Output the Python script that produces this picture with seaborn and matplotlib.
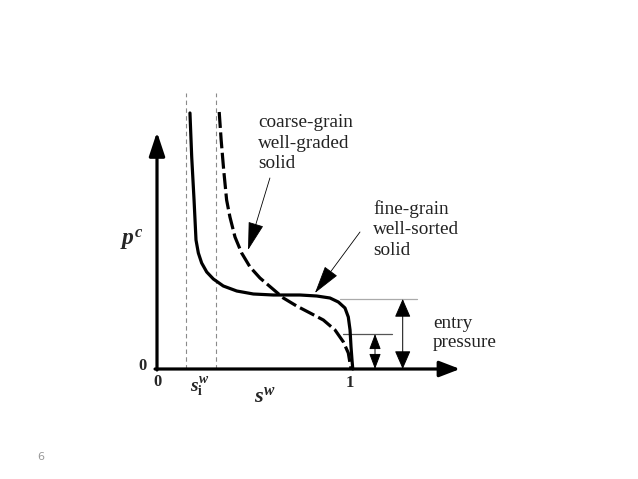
import matplotlib
matplotlib.use("Agg")
import matplotlib.pyplot as plt
import seaborn as sns
import pandas as pd

# fine-grain well-sorted solid (solid line)
fine_sw = [0.169, 0.178, 0.190, 0.195, 0.200, 0.212, 0.229, 0.255, 0.289, 0.340,
           0.409, 0.494, 0.596, 0.733, 0.819, 0.887, 0.930, 0.964, 0.981, 0.990,
           0.995, 1.000, 1.004]
fine_pc = [2.56, 2.12, 1.69, 1.49, 1.29, 1.16, 1.06, 0.97, 0.90, 0.83,
           0.78, 0.75, 0.74, 0.74, 0.73, 0.71, 0.67, 0.61, 0.52, 0.39,
           0.22, 0.09, 0.0]

# coarse-grain well-graded solid (dashed line)
coarse_sw = [0.319, 0.329, 0.342, 0.357, 0.374, 0.400, 0.434, 0.477, 0.528, 0.588,
             0.648, 0.716, 0.785, 0.853, 0.913, 0.956, 0.981, 0.995]
coarse_pc = [2.57, 2.29, 1.99, 1.69, 1.52, 1.32, 1.16, 1.02, 0.91, 0.81,
             0.71, 0.63, 0.56, 0.49, 0.39, 0.27, 0.16, 0.0]

# irreducible saturations (thin dashed verticals)
sw_irr = [0.149, 0.303]
# entry pressures
entry_fine = 0.70
entry_coarse = 0.35

coarse_label = ["coarse-grain", "well-graded", "solid"]
fine_label = ["fine-grain", "well-sorted", "solid"]
entry_label = ["entry", "pressure"]

sns.set_style("white")
plt.rcParams["font.family"] = ["Liberation Serif", "DejaVu Serif"]
plt.rcParams["mathtext.fontset"] = "custom"
plt.rcParams["mathtext.it"] = "Liberation Serif:italic:bold"
plt.rcParams["mathtext.rm"] = "Liberation Serif:bold"
plt.rcParams["mathtext.bf"] = "Liberation Serif:bold"

fig = plt.figure(figsize=(6.38, 4.79), dpi=100)
ax = fig.add_axes([0, 0, 1, 1])
ax.set_xlim(-157 / 195, 481 / 195)
ax.set_ylim(-1.10, 3.69)
ax.axis("off")

fine_df = pd.DataFrame({"sw": fine_sw, "pc": fine_pc})
coarse_df = pd.DataFrame({"sw": coarse_sw, "pc": coarse_pc})

for x in sw_irr:
    ax.plot([x, x], [0, 2.76], color="#8a8a8a", lw=0.8, dashes=(4, 3))

ax.plot([0.94, 1.333], [entry_fine] * 2, color="#aaaaaa", lw=0.9)
ax.plot([0.954, 1.204], [entry_coarse] * 2, color="#555555", lw=0.9)

sns.lineplot(data=fine_df, x="sw", y="pc", sort=False, estimator=None,
             color="black", lw=2.3, ax=ax, solid_joinstyle="round")
sns.lineplot(data=coarse_df, x="sw", y="pc", sort=False, estimator=None,
             color="black", lw=2.3, ax=ax, linestyle=(0, (5, 1.4)))

# axes with arrows
ax.annotate("", xy=(0, 2.37), xytext=(0, -0.01),
            arrowprops=dict(arrowstyle="-|>,head_length=1.45,head_width=0.48",
                            lw=2.3, color="black", shrinkA=0, shrinkB=0))
ax.annotate("", xy=(1.554, 0), xytext=(-0.01, 0),
            arrowprops=dict(arrowstyle="-|>,head_length=1.25,head_width=0.48",
                            lw=2.3, color="black", shrinkA=0, shrinkB=0))

# entry pressure double arrows
ax.annotate("", xy=(1.26, entry_fine), xytext=(1.26, 0),
            arrowprops=dict(arrowstyle="<|-|>,head_length=1.15,head_width=0.5",
                            lw=0.7, color="black", shrinkA=0, shrinkB=0))
ax.annotate("", xy=(1.118, entry_coarse), xytext=(1.118, 0),
            arrowprops=dict(arrowstyle="<|-|>,head_length=0.95,head_width=0.36",
                            lw=0.7, color="black", shrinkA=0, shrinkB=0))

# label pointers
ax.annotate("", xy=(0.467, 1.19), xytext=(0.579, 1.91),
            arrowprops=dict(arrowstyle="-|>,head_length=1.8,head_width=0.5",
                            lw=0.6, color="black", shrinkA=0, shrinkB=0))
ax.annotate("", xy=(0.810, 0.76), xytext=(1.041, 1.37),
            arrowprops=dict(arrowstyle="-|>,head_length=1.8,head_width=0.5",
                            lw=0.6, color="black", shrinkA=0, shrinkB=0))

txt = dict(fontsize=13.8, color="#222222", va="baseline", ha="left")
for i, line in enumerate(coarse_label):
    ax.text(0.518, 2.42 - 0.205 * i, line, **txt)
for i, line in enumerate(fine_label):
    ax.text(1.108, 1.55 - 0.205 * i, line, **txt)
for i, line in enumerate(entry_label):
    ax.text(1.415, 0.41 - 0.19 * i, line, **txt)

ax.text(-0.128, 1.29, r"$p^c$", fontsize=17, ha="center", va="center")
ax.text(0.554, -0.28, r"$s^w$", fontsize=16, ha="center", va="center")
ax.text(0.221, -0.18, r"$s_{\mathrm{i}}^{w}$", fontsize=14, ha="center", va="center")
ax.text(-0.072, 0.03, "0", fontsize=12, fontweight="bold", ha="center", va="center")
ax.text(0.005, -0.13, "0", fontsize=12, fontweight="bold", ha="center", va="center")
ax.text(0.99, -0.14, "1", fontsize=12, fontweight="bold", ha="center", va="center")
ax.text(-0.597, -0.88, "6", fontsize=8, color="#999999", family="DejaVu Sans",
        ha="center", va="center")

fig.savefig("out.png", dpi=100)
plt.close(fig)
